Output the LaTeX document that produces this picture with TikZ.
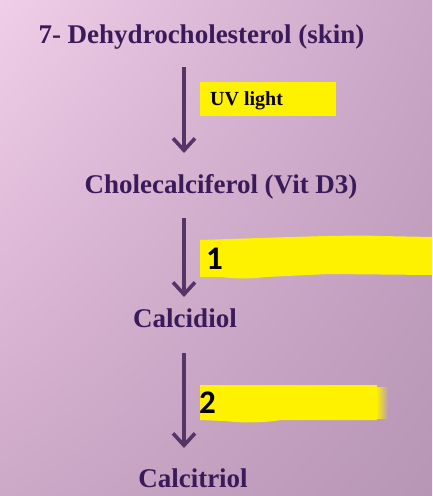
\documentclass[tikz,border=0pt]{standalone}
\usepackage{fontspec}
\setmainfont{Liberation Serif}
\newfontfamily\digitfont{Carlito}
\usepackage{tikz}
\usetikzlibrary{arrows.meta,positioning,fadings,shadings}
\definecolor{bgtl}{HTML}{F0CDE8}
\definecolor{bgtr}{HTML}{C9A6C6}
\definecolor{bgbl}{HTML}{CDA9C8}
\definecolor{bgbr}{HTML}{B795B4}
\definecolor{molcol}{HTML}{3A1A58}
\definecolor{arrcol}{HTML}{553565}
\definecolor{hilite}{HTML}{FFF200}
\tikzstyle{molname} = [inner sep=0pt, anchor=base, text=molcol, font=\bfseries\fontsize{27}{30}\selectfont]
\tikzstyle{uvlabel} = [inner sep=0pt, anchor=base west, text=black!85!molcol, font=\bfseries\fontsize{20}{22}\selectfont]
\tikzstyle{steplabel} = [inner sep=0pt, anchor=base west, text=black, font=\digitfont\bfseries\fontsize{33}{36}\selectfont]
\tikzstyle{convlink} = [draw=arrcol, line width=3.6pt, -{Straight Barb[length=12pt,width=22pt,line width=3.6pt]}]
\newcommand{\convarrow}[3]{% #1: name; #2: top y; #3: tip y
  \coordinate (#1-s) at (184,#2);
  \coordinate (#1-e) at (184,#3);
  \draw[convlink] (#1-s) -- (#1-e);
}
\begin{document}
\begin{tikzpicture}[x=1pt,y=-1pt]
        % background
        \shade[upper left=bgtl, upper right=bgtr, lower left=bgbl, lower right=bgbr] (0,0) rectangle (432,496);
        \useasboundingbox (0,0) rectangle (432,496);
        % highlight boxes
        \fill[hilite] (200,82) rectangle (336,116);
        \fill[hilite] (200,240) -- (260,238) .. controls (320,236) and (360,235) .. (380,236)
          -- (432,237) -- (432,275) -- (330,274) -- (265,277)
          .. controls (250,279) and (235,279) .. (222,277) -- (200,277) -- cycle;
        \fill[hilite] (200,385) -- (377,385) -- (377,420) -- (280,420)
          .. controls (265,423) and (240,423) .. (225,421) -- (200,420) -- cycle;
        \fill[hilite, path fading=east] (376,387) rectangle (388,419);
        % molecules
        \node[molname] (dhc) at (201.5,43) {7- Dehydrocholesterol (skin)};
        \node[molname] (vd3) at (221,193) {Cholecalciferol (Vit D3)};
        \node[molname] (cdl) at (185,327) {Calcidiol};
        \node[molname] (ctl) at (193,487) {Calcitriol};
        % labels
        \node[uvlabel] (uv) at (210,105) {UV light};
        \node[steplabel] (s1) at (206,269) {1};
        \node[steplabel] (s2) at (199,413) {2};
        % arrows
        \convarrow{a1}{67}{153}
        \convarrow{a2}{218}{297}
        \convarrow{a3}{353}{448}
\end{tikzpicture}
\end{document}
